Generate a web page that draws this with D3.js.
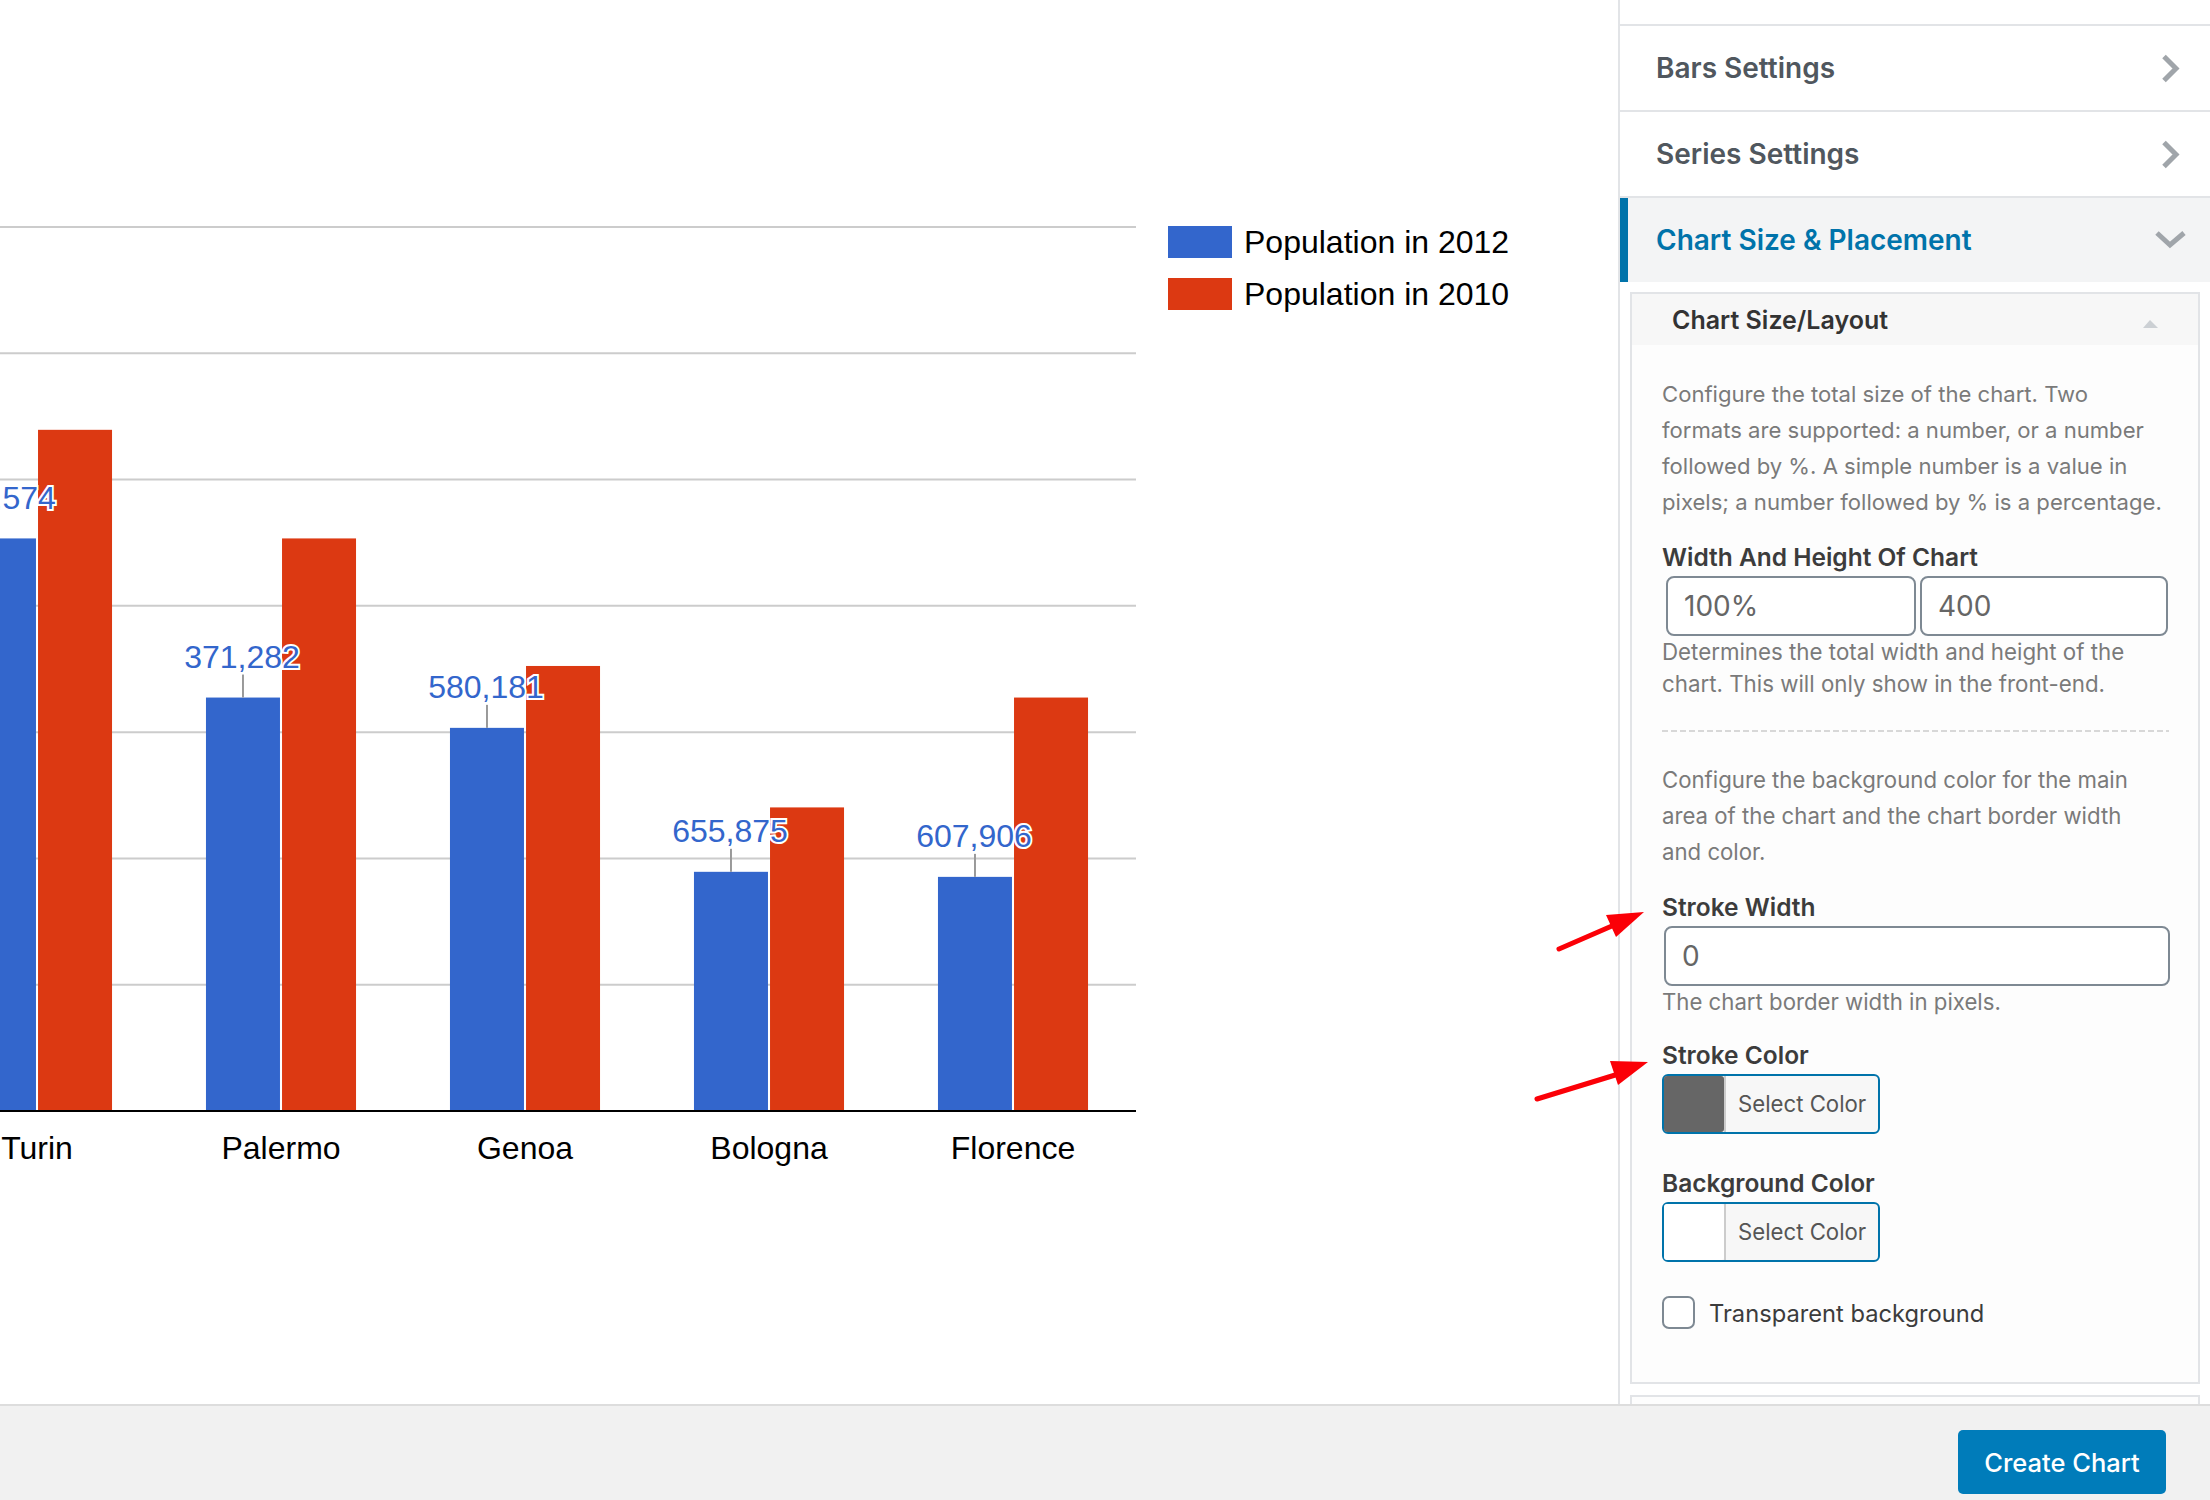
<!DOCTYPE html>
<html>
<head>
<meta charset="utf-8">
<title>Chart Size settings</title>
<script src="https://cdn.jsdelivr.net/npm/d3@7"></script>
<style>
  html, body { margin: 0; background: #fff; }
  svg { display: block; }
  .ui { font-family: Inter, "Open Sans", sans-serif; }
</style>
</head>
<body>
<div id="chart"></div>
<script>
// chart values
var cities = ['Turin', 'Palermo', 'Genoa', 'Bologna', 'Florence'];
var seriesNames = ['Population in 2012', 'Population in 2010'];
var population2012 = [453000, 327000, 303000, 189000, 185000];
var population2010 = [539000, 453000, 352000, 240000, 327000];
var annotations2012 = [872574, 371282, 580181, 655875, 607906];
var gridTicks = [0, 100000, 200000, 300000, 400000, 500000, 600000, 700000];
var seriesColors = ['#3366cc', '#dc3912'];

// sidebar copy
var accordionTitles = ['Bars Settings', 'Series Settings'];
var activeTitle = 'Chart Size & Placement';
var panelTitle = 'Chart Size/Layout';
var sizeHelp = [
  'Configure the total size of the chart. Two',
  'formats are supported: a number, or a number',
  'followed by %. A simple number is a value in',
  'pixels; a number followed by % is a percentage.'
];
var sizeNote = ['Determines the total width and height of the', 'chart. This will only show in the front-end.'];
var colorHelp = [
  'Configure the background color for the main',
  'area of the chart and the chart border width',
  'and color.'
];

var svg = d3.select('#chart').append('svg')
  .attr('width', 2210)
  .attr('height', 1500);

drawChart();
drawSidebar();
drawArrows();

function drawChart() {
  var x = d3.scaleBand().domain(cities).range([-85, 1135]).paddingInner(0.385).paddingOuter(0.1925);
  var x1 = d3.scaleBand().domain(seriesNames).range([0, x.bandwidth()]).paddingInner(0.027);
  var y = d3.scaleLinear().domain([0, 700000]).range([1110.5, 226.5]);
  var values = [population2012, population2010];

  var chart = svg.append('g').style('font-family', '"Liberation Sans", Arial, sans-serif');

  var grid = chart.append('g')
    .attr('transform', 'translate(1136,0)')
    .call(d3.axisLeft(y).tickValues(gridTicks).tickSize(1140).tickFormat(''));
  grid.select('.domain').remove();
  grid.selectAll('line').attr('stroke', '#cccccc').attr('stroke-width', 2);

  seriesNames.forEach(function (name, s) {
    chart.append('g')
      .selectAll('rect')
      .data(values[s])
      .join('rect')
      .attr('x', function (d, i) { return x(cities[i]) + x1(name); })
      .attr('y', function (d) { return y(d); })
      .attr('width', x1.bandwidth())
      .attr('height', function (d) { return y(0) - y(d); })
      .attr('fill', seriesColors[s]);
  });

  var axis = chart.append('g')
    .attr('transform', 'translate(0,1111)')
    .call(d3.axisBottom(x).tickSize(0).tickPadding(25.5));
  axis.select('.domain').remove();
  axis.selectAll('text')
    .attr('fill', '#000')
    .style('font-family', 'inherit')
    .style('font-size', '32px');
  chart.append('line')
    .attr('x1', 0).attr('x2', 1136)
    .attr('y1', 1111).attr('y2', 1111)
    .attr('stroke', '#000')
    .attr('stroke-width', 2);

  // annotation on top of each blue bar
  var notes = chart.append('g')
    .selectAll('g')
    .data(population2012)
    .join('g')
    .attr('transform', function (d, i) {
      return 'translate(' + (x(cities[i]) + x1(seriesNames[0]) + x1.bandwidth() / 2) + ',' + y(d) + ')';
    });
  notes.append('line')
    .attr('y1', 0).attr('y2', -23)
    .attr('stroke', '#999')
    .attr('stroke-width', 2);
  notes.append('text')
    .attr('x', -1)
    .attr('y', -41)
    .attr('dy', '0.35em')
    .attr('text-anchor', 'middle')
    .attr('fill', seriesColors[0])
    .attr('stroke', '#fff')
    .attr('stroke-width', 4)
    .attr('paint-order', 'stroke')
    .style('font-size', '32px')
    .text(function (d, i) { return d3.format(',')(annotations2012[i]); });

  // legend
  var legend = chart.append('g')
    .selectAll('g')
    .data(seriesNames)
    .join('g')
    .attr('transform', function (d, i) { return 'translate(1168,' + (226 + i * 52) + ')'; });
  legend.append('rect')
    .attr('width', 64)
    .attr('height', 32)
    .attr('fill', function (d, i) { return seriesColors[i]; });
  legend.append('text')
    .attr('x', 76)
    .attr('y', 16)
    .attr('dy', '0.35em')
    .attr('fill', '#000')
    .style('font-size', '32px')
    .text(function (d) { return d; });
}

function label(parent, text, x, cy, size, weight, color) {
  return parent.append('text')
    .attr('x', x)
    .attr('y', cy)
    .attr('dy', '0.35em')
    .attr('fill', color)
    .style('font-size', size + 'px')
    .style('font-weight', weight)
    .text(text);
}

function box(parent, x, y, w, h, r, fill, stroke) {
  return parent.append('rect')
    .attr('x', x).attr('y', y)
    .attr('width', w).attr('height', h)
    .attr('rx', r)
    .attr('fill', fill)
    .attr('stroke', stroke)
    .attr('stroke-width', stroke === 'none' ? 0 : 2);
}

function rule(parent, x1, y1, x2, y2, color) {
  return parent.append('line')
    .attr('x1', x1).attr('y1', y1).attr('x2', x2).attr('y2', y2)
    .attr('stroke', color)
    .attr('stroke-width', 2);
}

function chevron(parent, points) {
  parent.append('path')
    .attr('d', d3.line()(points))
    .attr('fill', 'none')
    .attr('stroke', '#a0a5aa')
    .attr('stroke-width', 5);
}

function drawSidebar() {
  var side = svg.append('g').attr('class', 'ui');
  var borderColor = '#e2e4e7';
  var muted = '#7a7a7a';
  var dark = '#3c3c3c';

  box(side, 1620, 0, 590, 1405, 0, '#fff', 'none');
  rule(side, 1619, 0, 1619, 1405, borderColor);
  rule(side, 1620, 25, 2210, 25, borderColor);
  rule(side, 1620, 111, 2210, 111, borderColor);
  rule(side, 1620, 197, 2210, 197, borderColor);

  accordionTitles.forEach(function (title, i) {
    var cy = 68.5 + i * 86;
    label(side, title, 1656, cy, 28, 600, '#50575e');
    chevron(side, [[2164, cy - 12], [2176, cy], [2164, cy + 12]]);
  });

  box(side, 1620, 198, 590, 84, 0, '#f3f4f5', 'none');
  box(side, 1620, 198, 8, 84, 0, '#0073aa', 'none');
  label(side, activeTitle, 1656, 240.5, 28, 600, '#0073aa');
  chevron(side, [[2157, 233], [2170, 245], [2184, 233]]);

  // panel
  box(side, 1631, 293, 568, 1090, 0, '#fdfdfd', borderColor);
  box(side, 1632, 294, 566, 51, 0, '#f7f7f7', 'none');
  label(side, panelTitle, 1672, 320, 25, 600, '#333');
  side.append('path')
    .attr('d', 'M2143,328L2150,320L2158,328Z')
    .attr('fill', '#ccd0d4');

  sizeHelp.forEach(function (line, i) {
    label(side, line, 1662, 394 + i * 36, 22.1, 400, muted);
  });
  label(side, 'Width And Height Of Chart', 1662, 557, 24.5, 600, dark);
  box(side, 1667, 577, 248, 58, 7, '#fff', '#7e8993');
  box(side, 1921, 577, 246, 58, 7, '#fff', '#7e8993');
  label(side, '100%', 1684, 606, 28, 400, '#666');
  label(side, '400', 1938, 606, 28, 400, '#666');
  sizeNote.forEach(function (line, i) {
    label(side, line, 1662, 652 + i * 32, 22.3, 400, muted);
  });

  rule(side, 1662, 731, 2169, 731, '#ccc').attr('stroke-dasharray', '6,3').attr('stroke-width', 1.5);

  colorHelp.forEach(function (line, i) {
    label(side, line, 1662, 780 + i * 36, 22.2, 400, muted);
  });

  label(side, 'Stroke Width', 1662, 907, 24.5, 600, dark);
  box(side, 1665, 927, 504, 58, 7, '#fff', '#7e8993');
  label(side, '0', 1682, 956, 28, 400, '#666');
  label(side, 'The chart border width in pixels.', 1662, 1002, 22.2, 400, muted);

  label(side, 'Stroke Color', 1662, 1055, 24.5, 600, dark);
  colorButton(side, 1075, '#666666');
  label(side, 'Background Color', 1662, 1183, 24.5, 600, dark);
  colorButton(side, 1203, '#ffffff');

  box(side, 1663, 1297, 31, 31, 6, '#fff', '#7e8993');
  label(side, 'Transparent background', 1709, 1314, 23.7, 400, dark);

  // next panel, cut by the footer
  box(side, 1631, 1396, 568, 30, 0, '#fdfdfd', borderColor);

  // footer
  box(side, 0, 1405, 2210, 95, 0, '#f1f1f1', 'none');
  rule(side, 0, 1405, 2210, 1405, '#dddddd');
  box(side, 1958, 1430, 208, 64, 5, '#007cba', 'none');
  label(side, 'Create Chart', 2062, 1463, 25.5, 500, '#fff').attr('text-anchor', 'middle');
}

function colorButton(parent, y, fill) {
  box(parent, 1663, y, 216, 58, 5, '#f7f7f7', '#0073aa');
  box(parent, 1664, y + 1, 60, 56, 3, fill, 'none');
  rule(parent, 1725, y + 1, 1725, y + 57, '#cccccc');
  label(parent, 'Select Color', 1738, y + 29, 22.2, 400, '#555');
}

function drawArrows() {
  var arrows = [
    { from: [1559, 949], to: [1628, 919], head: 'M1644,912L1606,915L1616,937Z' },
    { from: [1537, 1099], to: [1625, 1072], head: 'M1648,1062L1610,1061L1618,1085Z' }
  ];
  var g = svg.append('g');
  arrows.forEach(function (a) {
    g.append('line')
      .attr('x1', a.from[0]).attr('y1', a.from[1])
      .attr('x2', a.to[0]).attr('y2', a.to[1])
      .attr('stroke', '#fb0007')
      .attr('stroke-width', 5)
      .attr('stroke-linecap', 'round');
    g.append('path').attr('d', a.head).attr('fill', '#fb0007');
  });
}
</script>
</body>
</html>
